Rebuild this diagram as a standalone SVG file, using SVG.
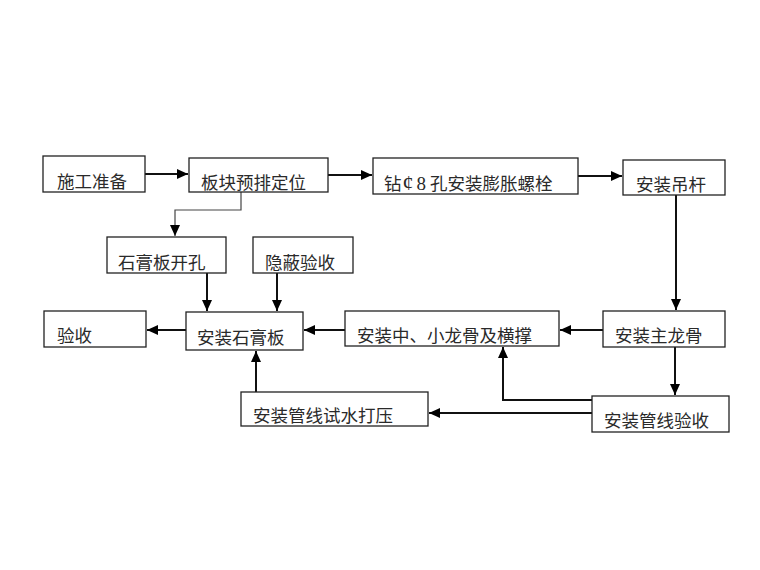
<svg xmlns="http://www.w3.org/2000/svg" width="760" height="570" viewBox="0 0 760 570">
<defs>
<marker id="ah" markerUnits="userSpaceOnUse" markerWidth="12" markerHeight="10" refX="11" refY="5" orient="auto">
<path d="M0,0 L11,5 L0,10 Z" fill="#000"/>
</marker>
<style>
.box{fill:#fff;stroke:#222;stroke-width:1.3}
.t{font-family:"Noto Sans CJK SC","Noto Sans",sans-serif;font-size:17.5px;fill:#2a2a2a}
.s{font-family:"Liberation Serif","Noto Sans CJK SC",serif}
.c{fill:none;stroke:#111;stroke-width:2;marker-end:url(#ah)}
.thin{fill:none;stroke:#444;stroke-width:1.2;marker-end:url(#ah)}
</style>
</defs>
<rect width="760" height="570" fill="#fff"/>
<g id="connectors">
<path class="c" d="M145,174 H188"/>
<path class="c" d="M328,175 H372"/>
<path class="c" d="M578,176 H622"/>
<path class="c" d="M676,195 V310"/>
<path class="c" d="M603,330 H560"/>
<path class="c" d="M675,347 V395"/>
<path class="c" d="M592,400 H503 V347"/>
<path class="c" d="M592,413 H429"/>
<path class="c" d="M256,392 V351"/>
<path class="c" d="M345,330 H304"/>
<path class="c" d="M186,330 H147"/>
<path class="c" d="M207,273 V311"/>
<path class="c" d="M277,273 V311"/>
<path class="thin" d="M241,192 V210 H175 V236"/>
</g>
<g id="n1"><rect class="box" x="43" y="156" width="102" height="36"/><text class="t" x="57" y="188">施工准备</text></g>
<g id="n2"><rect class="box" x="189" y="158" width="139" height="34"/><text class="t" x="201" y="189">板块预排定位</text></g>
<g id="n3"><rect class="box" x="373" y="158" width="205" height="36"/><text class="t" x="384" y="190">钻<tspan class="s" font-size="22" dx="1">¢</tspan><tspan class="s" font-size="19" dx="3">8</tspan><tspan dx="4">孔安装膨胀螺栓</tspan></text></g>
<g id="n4"><rect class="box" x="623" y="160" width="102" height="35"/><text class="t" x="636" y="191">安装吊杆</text></g>
<g id="n5"><rect class="box" x="107" y="237" width="119" height="36"/><text class="t" x="118" y="269">石膏板开孔</text></g>
<g id="n6"><rect class="box" x="253" y="237" width="100" height="36"/><text class="t" x="265" y="269">隐蔽验收</text></g>
<g id="n7"><rect class="box" x="44" y="311" width="102" height="36"/><text class="t" x="57" y="342">验收</text></g>
<g id="n8"><rect class="box" x="186" y="312" width="117" height="38"/><text class="t" x="197" y="344">安装石膏板</text></g>
<g id="n9"><rect class="box" x="345" y="311" width="214" height="35"/><text class="t" x="357" y="342">安装中、小龙骨及横撑</text></g>
<g id="n10"><rect class="box" x="603" y="311" width="122" height="36"/><text class="t" x="615" y="342">安装主龙骨</text></g>
<g id="n11"><rect class="box" x="592" y="396" width="137" height="36"/><text class="t" x="604" y="427">安装管线验收</text></g>
<g id="n12"><rect class="box" x="241" y="392" width="187" height="34"/><text class="t" x="253" y="422">安装管线试水打压</text></g>
</svg>
